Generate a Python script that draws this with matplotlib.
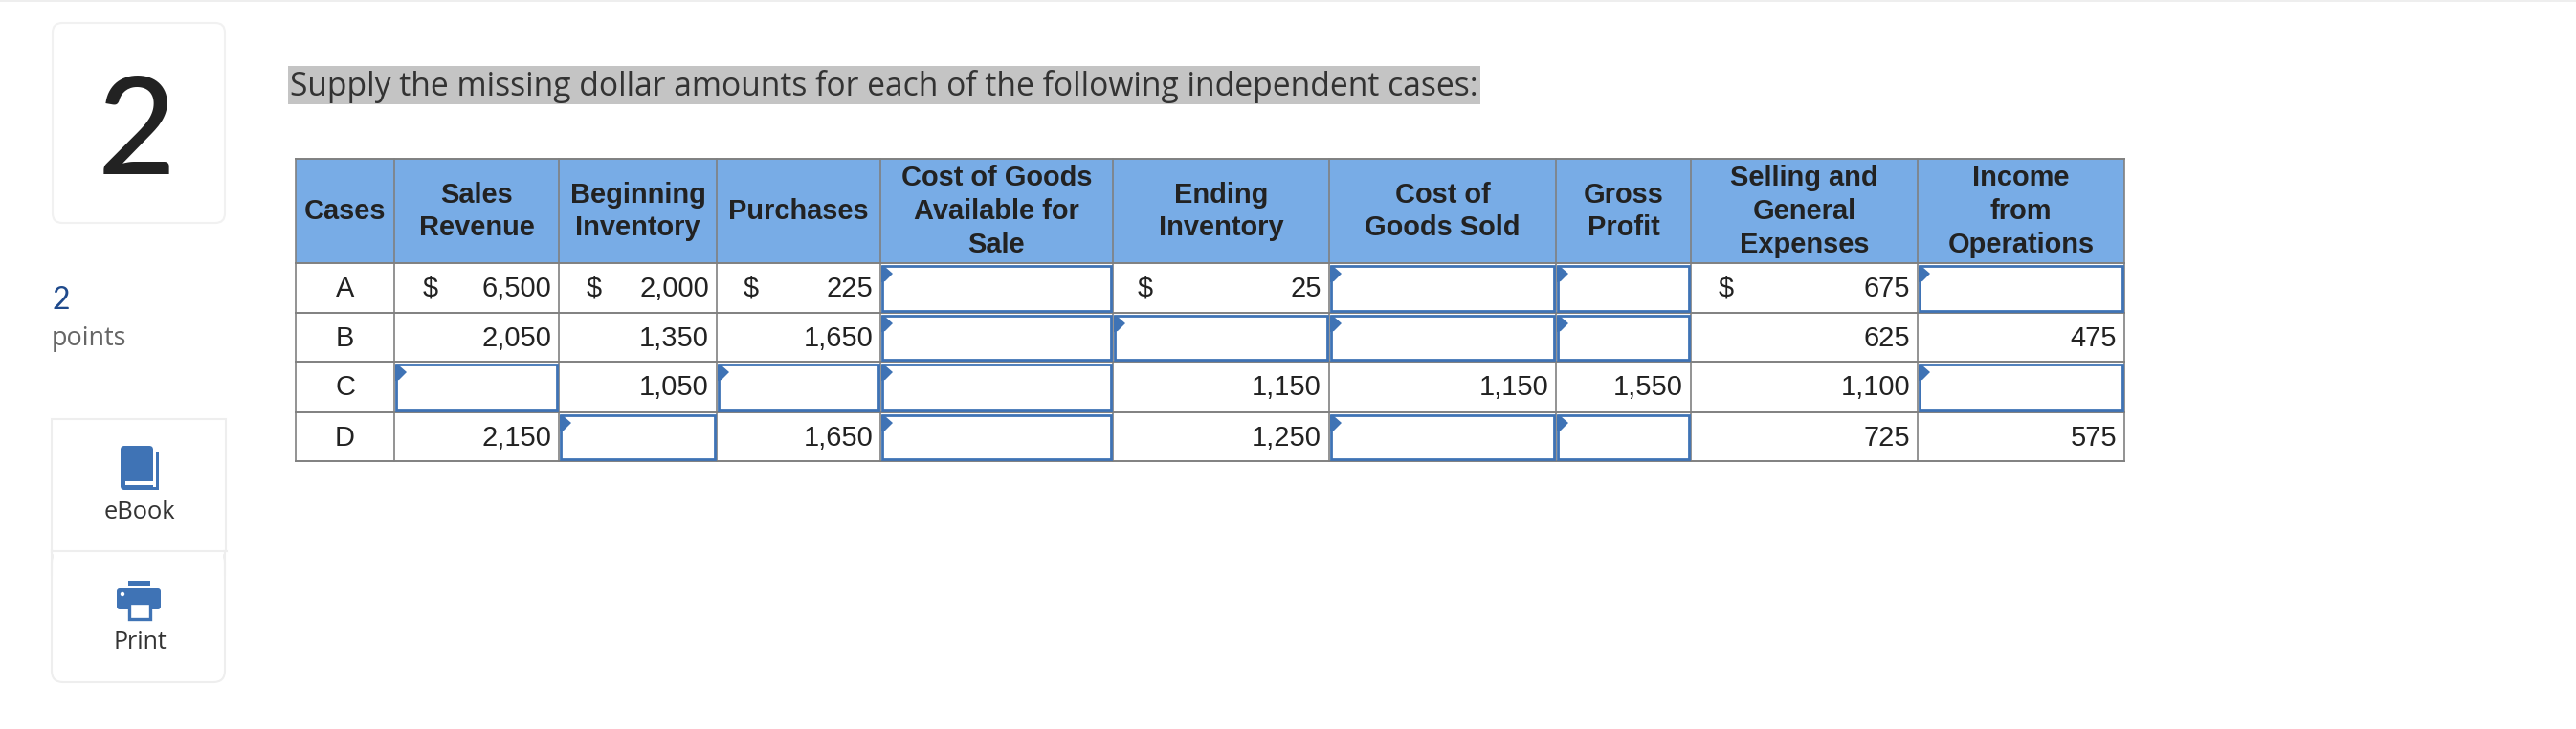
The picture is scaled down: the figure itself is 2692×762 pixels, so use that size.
import matplotlib
matplotlib.use('Agg')
import matplotlib.pyplot as plt
from matplotlib.patches import Rectangle, Polygon, FancyBboxPatch

# данные таблицы, None = пустое поле ввода
cases = ['A', 'B', 'C', 'D']
headers = ['Cases', 'Sales\nRevenue', 'Beginning\nInventory', 'Purchases',
           'Cost of Goods\nAvailable for\nSale', 'Ending\nInventory',
           'Cost of\nGoods Sold', 'Gross\nProfit',
           'Selling and\nGeneral\nExpenses', 'Income\nfrom\nOperations']
sales_revenue = ['6,500', '2,050', None, '2,150']
beginning_inventory = ['2,000', '1,350', '1,050', None]
purchases = ['225', '1,650', None, '1,650']
cost_available = [None, None, None, None]
ending_inventory = ['25', None, '1,150', '1,250']
cost_sold = [None, None, '1,150', None]
gross_profit = [None, None, '1,550', None]
selling_general = ['675', '625', '1,100', '725']
income_operations = [None, '475', None, '575']
columns = [sales_revenue, beginning_inventory, purchases, cost_available, ending_inventory,
           cost_sold, gross_profit, selling_general, income_operations]
title = 'Supply the missing dollar amounts for each of the following independent cases:'

# разметка в пикселях
x_edges = [309, 412, 584, 749, 920, 1163, 1389, 1626, 1767, 2004, 2220]
y_edges = [165.5, 275, 327, 378, 431, 482]
baselines = [310, 362, 413, 466]
dollar_x = {1: 442, 2: 613, 3: 777, 5: 1189, 8: 1796}

blue = '#3f73b5'
head_blue = '#78ace6'
grid_gray = '#808080'
card_gray = '#eeeeee'
px = 0.72  # пиксели -> пункты при dpi=100
ui_font = 'Open Sans'
table_font = 'Liberation Sans'

fig = plt.figure(figsize=(26.92, 7.62), dpi=100)
ax = fig.add_axes([0, 0, 1, 1])
ax.set_xlim(0, 2692)
ax.set_ylim(762, 0)
ax.axis('off')

# верхняя полоса и карточки слева
ax.add_patch(Rectangle((0, 0), 2692, 2, color='#eeeeee', lw=0))
ax.add_patch(FancyBboxPatch((63, 32), 164, 193, boxstyle='round,pad=8,rounding_size=10',
                            fc='white', ec='#f1f1f1', lw=1.5))
ax.add_patch(FancyBboxPatch((62, 446), 166, 122, boxstyle='square,pad=8', fc='white', ec=card_gray, lw=1.5))
ax.add_patch(FancyBboxPatch((54, 576), 181, 137, boxstyle='round,pad=0,rounding_size=12', fc='white', ec=card_gray, lw=1.5))
ax.add_patch(Rectangle((56, 568), 177, 30, fc='white', lw=0))
ax.plot([54, 237], [576, 576], color=card_gray, lw=1.5)
ax.plot([54, 54], [576, 600], color=card_gray, lw=1.5)
ax.plot([235, 235], [576, 600], color=card_gray, lw=1.5)

ax.text(143, 182, '2', fontsize=102, family='Lato', weight='medium', color='#222222', ha='center', va='baseline')
ax.text(55, 323, '2', fontsize=32 * px, family='Lato', color='#1f4a8c', ha='left', va='baseline')
ax.text(54, 361, 'points', fontsize=27 * px, family=ui_font, color='#666666', ha='left', va='baseline')
ax.text(146, 542, 'eBook', fontsize=25.5 * px, family=ui_font, color='#333333', ha='center', va='baseline')
ax.text(146, 678, 'Print', fontsize=25 * px, family=ui_font, color='#333333', ha='center', va='baseline')

# значок книги
ax.add_patch(FancyBboxPatch((129, 469), 28, 40, boxstyle='round,pad=3,rounding_size=4', fc=blue, lw=0))
ax.add_patch(Rectangle((163, 472), 3, 40, fc=blue, lw=0))
ax.add_patch(Rectangle((130, 509), 36, 3, fc=blue, lw=0))
ax.add_patch(Rectangle((131, 503), 35, 4, fc='white', lw=0))
ax.add_patch(Rectangle((163, 503), 3, 6, fc=blue, lw=0))
# значок принтера
ax.add_patch(Rectangle((134, 607), 23, 6, fc=blue, lw=0))
ax.add_patch(FancyBboxPatch((124, 617), 42, 18, boxstyle='round,pad=2,rounding_size=3', fc=blue, lw=0))
ax.add_patch(Rectangle((135, 630), 22, 17, fc='white', ec=blue, lw=2.4))
ax.add_patch(plt.Circle((128, 621), 2.2, fc='white', lw=0))

# заголовок
ax.add_patch(Rectangle((301, 69), 1246, 40, fc='#c4c4c4', lw=0))
ax.text(303, 100, title, fontsize=33.6 * px, family=ui_font, color='#333333', ha='left', va='baseline')

# шапка таблицы
ax.add_patch(Rectangle((x_edges[0], y_edges[0]), x_edges[-1] - x_edges[0], y_edges[1] - y_edges[0],
                       fc=head_blue, lw=0))
for x in x_edges:
    ax.plot([x, x], [y_edges[0], y_edges[-1]], color=grid_gray, lw=1.2)
for y in y_edges:
    ax.plot([x_edges[0], x_edges[-1]], [y, y], color=grid_gray, lw=1.4)

for i, h in enumerate(headers):
    xc = (x_edges[i] + x_edges[i + 1]) / 2
    lines = h.split('\n')
    for k, line in enumerate(lines):
        ax.text(xc, 229 + (k - (len(lines) - 1) / 2) * 34.5, line, fontsize=29 * px, family=table_font,
                weight='bold', color='#222222', ha='center', va='baseline')

# строки
for r, c in enumerate(cases):
    xc = (x_edges[0] + x_edges[1]) / 2
    ax.text(xc, baselines[r], c, fontsize=29 * px, family=table_font, color='#222222', ha='center', va='baseline')
    for j, col in enumerate(columns):
        left = x_edges[j + 1]
        right = x_edges[j + 2]
        top = y_edges[r + 1]
        bottom = y_edges[r + 2]
        v = col[r]
        if v is None:
            ax.add_patch(Rectangle((left + 2, top + 2.5), right - left - 4, bottom - top - 4.5,
                                   fc='white', ec=blue, lw=2.0, zorder=3))
            ax.add_patch(Polygon([(left + 1, top + 3), (left + 5, top + 4), (left + 13, top + 11),
                                  (left + 5, top + 19), (left + 1, top + 20)],
                                 fc=blue, lw=0, zorder=4))
        else:
            ax.text(right - 8, baselines[r], v, fontsize=29 * px, family=table_font, color='#222222',
                    ha='right', va='baseline')
            if r == 0 and j + 1 in dollar_x:
                ax.text(dollar_x[j + 1], baselines[r], '$', fontsize=29 * px, family=table_font,
                        color='#222222', ha='left', va='baseline')

fig.savefig('out.png', dpi=100, facecolor='white')
